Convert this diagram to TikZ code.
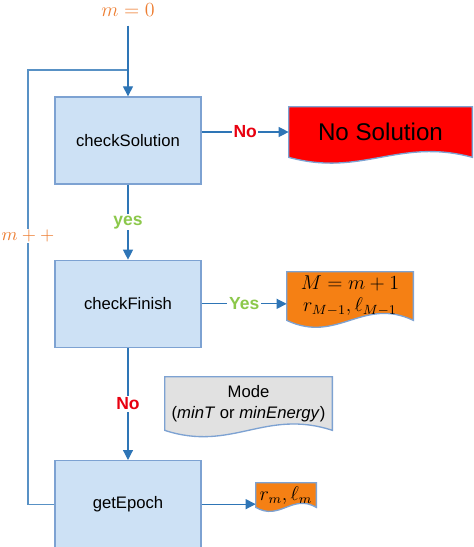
\documentclass[tikz,border=0pt]{standalone}
\usepackage{fontspec}
\setmainfont{Liberation Sans}
\usepackage{amsmath}
\usetikzlibrary{arrows.meta,positioning,calc,backgrounds}
\definecolor{boxblue}{RGB}{205,225,245}
\definecolor{lineblue}{RGB}{46,117,182}
\definecolor{edgeblue}{RGB}{125,162,210}
\definecolor{mathorange}{RGB}{237,125,49}
\definecolor{docorange}{RGB}{245,128,20}
\definecolor{docgray}{RGB}{225,225,225}
\definecolor{lblred}{RGB}{232,0,16}
\definecolor{lblgreen}{RGB}{140,200,75}
\newcommand{\tc}[2]{\textcolor{#1}{#2}}
\newcommand{\docshape}[3]{\begin{scope}[on background layer]\draw[doc,fill=#2] (#1.south west) -- (#1.north west) -- (#1.north east) -- (#1.south east) .. controls ($(#1.south west)!0.6!(#1.south east)+(0,-#3)$) and ($(#1.south west)!0.4!(#1.south east)+(0,#3)$) .. (#1.south west) -- cycle;\end{scope}}

\begin{document}
\begin{tikzpicture}[x=0.6pt,y=-0.6pt,block/.style = {draw=edgeblue,line width=0.8pt,fill=boxblue,minimum width=87.6pt,minimum height=52.2pt,inner sep=0pt,font=\fontsize{10}{12}\selectfont},docbox/.style={inner sep=0pt,align=center},doc/.style={draw=edgeblue,line width=0.8pt},arrow/.style={draw=lineblue,line width=0.7pt,-{Triangle[length=6pt,width=6pt]}},line/.style={draw=lineblue!80,line width=0.7pt},lbl/.style={fill=white,inner sep=1pt,font=\bfseries\fontsize{10.5}{12}\selectfont},mathlbl/.style={text=mathorange,font=\fontsize{12}{14}\selectfont}]
            \useasboundingbox (0,0) rectangle (474,547);
            \node[mathlbl](start) at (128,10) {$m=0$};
            \node[block](chksol) at (128,140.5) {checkSolution};
            \node[block,below=45pt of chksol](chkfin) {checkFinish};
            \node[block,below=67.2pt of chkfin](getep) {getEpoch};
            \node[docbox,minimum width=109.8pt,minimum height=30pt](nosol) at (380.5,132) {\fontsize{14.5}{17}\selectfont No Solution};
            \node[docbox,minimum width=75.6pt,minimum height=28.8pt,font=\fontsize{12}{13.5}\selectfont](Mdoc) at (350,296) {$M=m+1$\\$r_{M-1},\ell_{M-1}$};
            \node[docbox,minimum width=100.2pt,minimum height=31.8pt,font=\fontsize{10}{12.6}\selectfont](mode) at (248.5,403.5) {Mode\\(\textit{minT} or \textit{minEnergy})};
            \node[docbox,minimum width=36pt,minimum height=14.4pt,font=\fontsize{12}{14}\selectfont](rmdoc) at (286,495) {$r_m,\ell_m$};
            \docshape{nosol}{red}{20}
            \docshape{Mdoc}{docorange}{24}
            \docshape{mode}{docgray}{22}
            \docshape{rmdoc}{docorange}{14}
            % loop back
            \coordinate (loopcorner) at (28,70);
            \coordinate (join) at (128,70);
            \draw[line] (getep.west) -| (loopcorner) -- (join);
            \node[mathlbl,fill=white,inner sep=0.5pt,font=\fontsize{11}{12}\selectfont](mpp) at (28,236) {$m++$};
            \draw[arrow,shorten <=2pt] (start) -- (chksol);
            \draw[arrow] (chksol.east |- nosol) -- node[lbl,text=lblred]{No} (nosol.west);
            \draw[arrow] (chksol) -- node[lbl,text=lblgreen]{yes} (chkfin);
            \draw[arrow] (chkfin.east) -- node[lbl,text=lblgreen]{Yes} (chkfin.east -| Mdoc.west);
            \draw[arrow] (chkfin) -- node[lbl,text=lblred]{No} (getep);
            \draw[arrow] (getep.east) -- (getep.east -| rmdoc.west);
    \end{tikzpicture}
\end{document}
